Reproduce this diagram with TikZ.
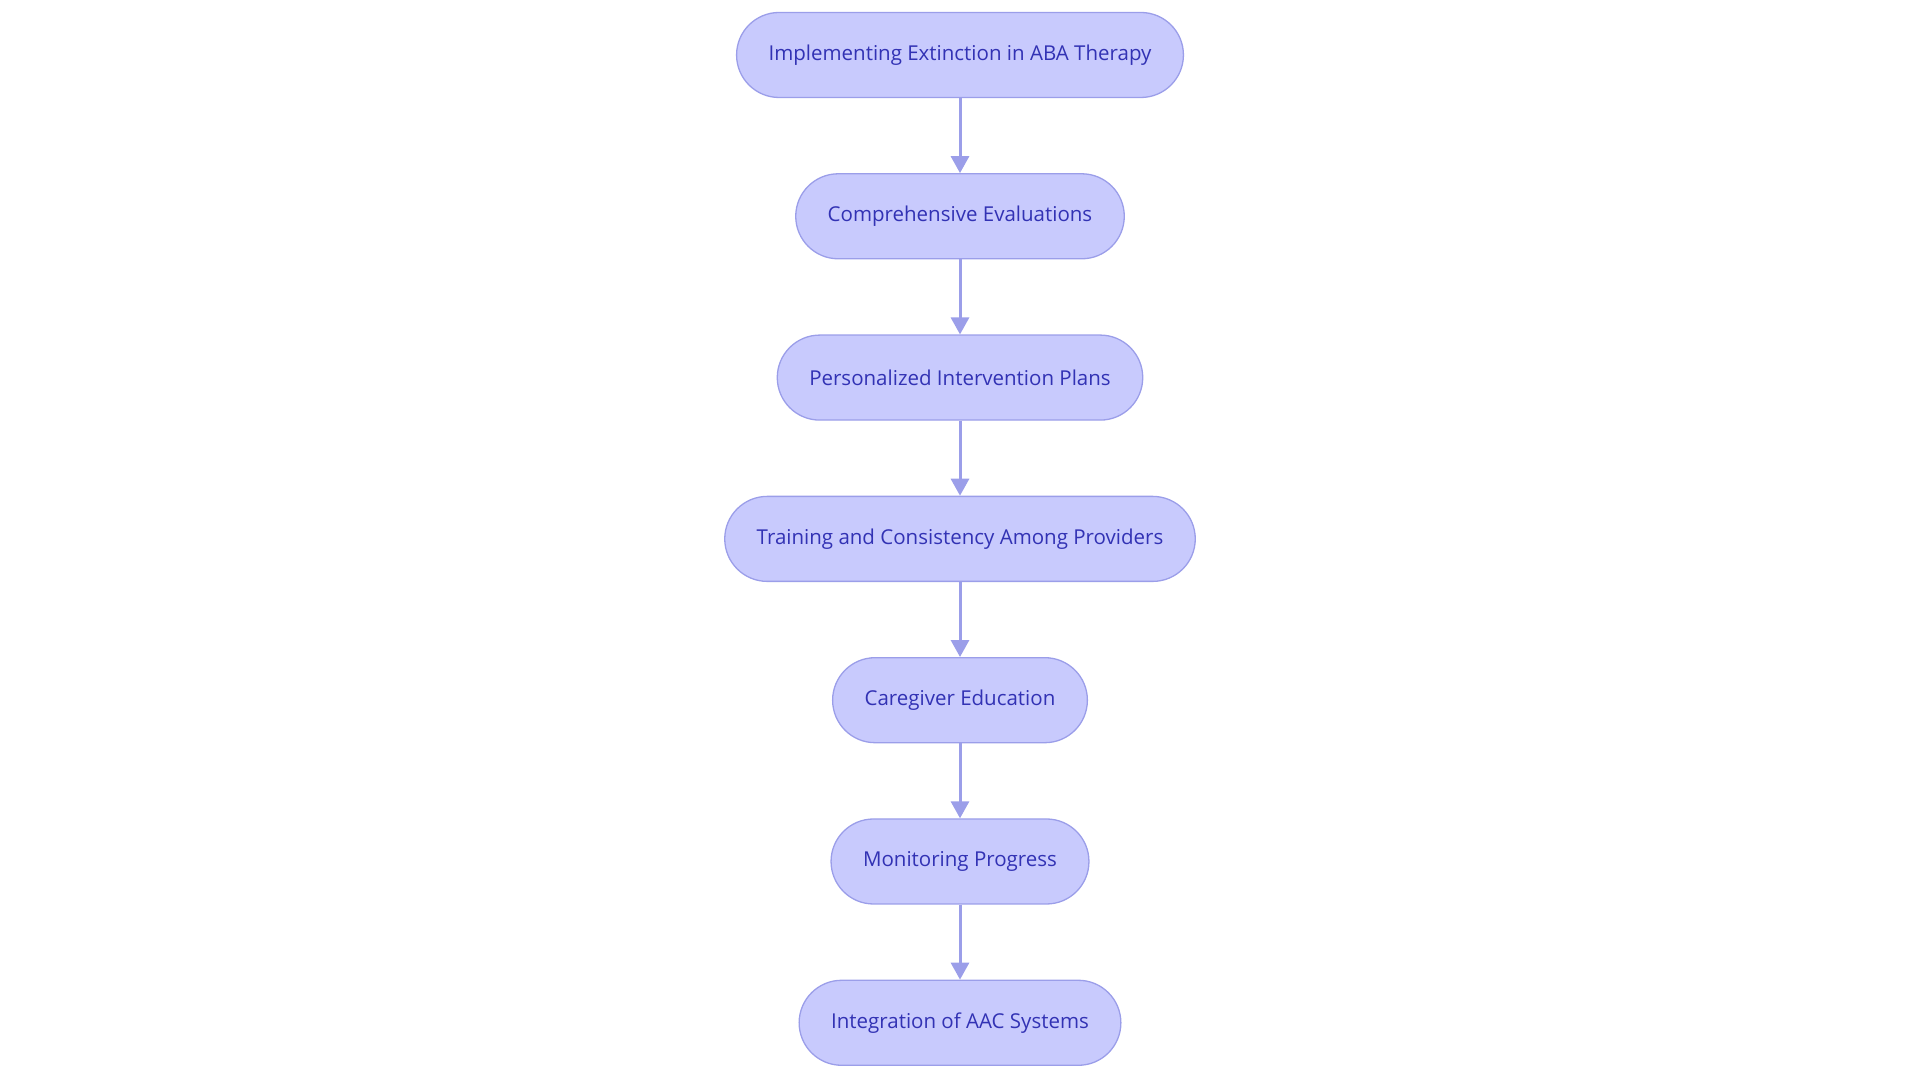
\documentclass[tikz,border=0pt]{standalone}
\usepackage{fontspec}
\setmainfont{Open Sans}
\usetikzlibrary{positioning,arrows.meta}

\definecolor{stepfill}{HTML}{C8CAFD}
\definecolor{stepline}{HTML}{9B9EE9}
\definecolor{steptext}{HTML}{3232B4}

\tikzset{
  stepbox/.style={draw=stepline, line width=1.3pt, fill=stepfill, text=steptext,
    rounded corners=42.5pt, minimum height=85pt, inner xsep=32pt,
    font=\fontsize{20.5pt}{24pt}\selectfont},
  steparrow/.style={draw=stepline, line width=3pt, -{Triangle[width=18pt,length=17pt]}}
}

\begin{document}
\begin{tikzpicture}[x=1pt,y=1pt, node distance=75pt]
    \useasboundingbox (0,0) rectangle (1920,1083);
    \node [stepbox] (impl) at (960,1028) {Implementing Extinction in ABA Therapy};
    \node [stepbox, below=of impl] (eval) {Comprehensive Evaluations};
    \node [stepbox, below=of eval] (plan) {Personalized Intervention Plans};
    \node [stepbox, below=of plan] (train) {Training and Consistency Among Providers};
    \node [stepbox, below=of train] (care) {Caregiver Education};
    \node [stepbox, below=of care] (prog) {Monitoring Progress};
    \node [stepbox, below=of prog] (aac) {Integration of AAC Systems};
    \draw [steparrow] (impl) -- (eval);
    \draw [steparrow] (eval) -- (plan);
    \draw [steparrow] (plan) -- (train);
    \draw [steparrow] (train) -- (care);
    \draw [steparrow] (care) -- (prog);
    \draw [steparrow] (prog) -- (aac);
\end{tikzpicture}
\end{document}
